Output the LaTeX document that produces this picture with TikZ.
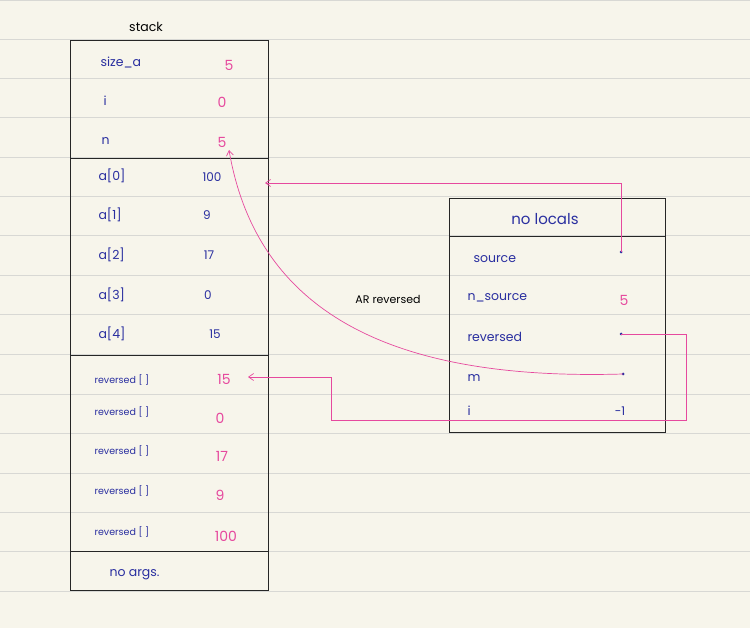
\documentclass[tikz,border=0pt]{standalone}
\usepackage{fontspec}
\setmainfont{Poppins}
\usetikzlibrary{arrows.meta}
\definecolor{paper}{HTML}{F7F5EB}
\definecolor{rule}{HTML}{D8D8D4}
\definecolor{ink}{HTML}{2A2FA0}
\definecolor{pinkv}{HTML}{E6499E}
\begin{document}
\begin{tikzpicture}[x=1pt,y=-1pt,
  lab/.style={text=ink,anchor=west,font=\fontsize{12.5}{14}\selectfont},
  small/.style={text=ink,anchor=west,font=\fontsize{9.5}{11}\selectfont},
  val/.style={text=pinkv,font=\fontsize{14}{16}\selectfont},
  valb/.style={text=ink,font=\fontsize{12}{14}\selectfont},
  box/.style={draw=black!85,line width=0.8pt},
  link/.style={draw=pinkv,line width=0.7pt},
  arr/.style={link,-{Straight Barb[length=5pt,width=7pt]}},
  dotn/.style={circle,fill=ink,inner sep=0pt,minimum size=3pt}]
\useasboundingbox (0,0) rectangle (750,628);
\fill[paper] (0,0) rectangle (750,628);
\foreach \y in {1,40,79,118,158,197,236,276,315,355,394,433,473,512,551,591}
  \draw[rule,line width=1pt] (0,\y) -- (750,\y);
% stack
\node[text=black,font=\fontsize{12.5}{14}\selectfont] (stk) at (146,27) {stack};
\draw[box] (70,40) rectangle (268,590);
\draw[box] (70,158) -- (268,158);
\draw[box] (70,355) -- (268,355);
\draw[box] (70,551) -- (268,551);
\node[lab] (l1) at (97,63) {size\_a}; \node[val] (v1) at (229,65) {5};
\node[lab] (l2) at (100,101) {i};      \node[val] (v2) at (222,102) {0};
\node[lab] (l3) at (98,141) {n};      \node[val] (n5) at (222,142) {5};
\node[lab] (a0) at (95,176) {a[0]};   \node[valb] (a0v) at (212,177) {100};
\node[lab] (a1) at (95,215) {a[1]};   \node[valb] at (207,215) {9};
\node[lab] (a2) at (95,255) {a[2]};   \node[valb] at (209,255) {17};
\node[lab] (a3) at (95,295) {a[3]};   \node[valb] at (208,295) {0};
\node[lab] (a4) at (95,334) {a[4]};   \node[valb] at (215,334) {15};
\node[small] (r0) at (91,380) {reversed [ ]}; \node[val] (rv0) at (224,379) {15};
\node[small] (r1) at (91,412) {reversed [ ]}; \node[val] at (220,418) {0};
\node[small] (r2) at (91,451) {reversed [ ]}; \node[val] at (222,456) {17};
\node[small] (r3) at (91,491) {reversed [ ]}; \node[val] at (220,495) {9};
\node[small] (r4) at (91,532) {reversed [ ]}; \node[val] at (226,536) {100};
\node[lab] (na) at (106,575) {no args.};
% AR
\draw[box] (449,198) rectangle (665,432);
\draw[box] (449,236) -- (665,236);
\node[text=ink,font=\fontsize{15}{17}\selectfont] (nl) at (545,219) {no locals};
\node[lab] (s) at (470,259) {source};   \node[dotn] (ds) at (621,252) {};
\node[lab] (ns) at (464,298) {n\_source}; \node[val] at (624,300) {5};
\node[lab] (rv) at (464,337) {reversed}; \node[dotn] (dr) at (621,334) {};
\node[lab] (m) at (464,378) {m};        \node[dotn] (dm) at (623,374) {};
\node[lab] (ii) at (464,411) {i};       \node[valb] at (620,411) {-1};
\node[text=black,font=\fontsize{11}{13}\selectfont] (ar) at (388,299) {AR reversed};
% connectors
\draw[arr] (ds.center) -- (621,183) -- (265,183);
\draw[arr] (dm.center) .. controls (420,380) and (260,330) .. (229,150);
\draw[arr] (dr.center) -- (686,334) -- (686,420) -- (331,420) -- (331,377) -- (248,377);
\end{tikzpicture}
\end{document}
